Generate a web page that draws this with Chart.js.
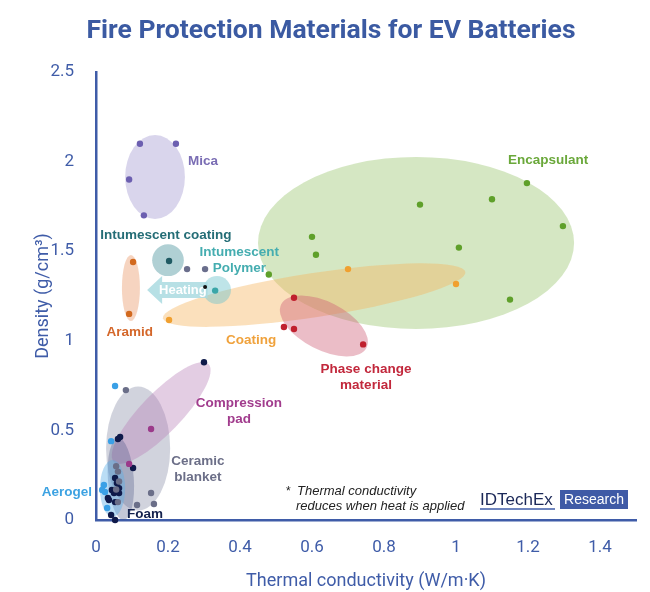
<!DOCTYPE html>
<html lang="en">
<head>
<meta charset="UTF-8">
<title>Fire Protection Materials for EV Batteries</title>
<style>
  html, body { margin: 0; padding: 0; background: #fff; }
</style>
</head>
<body>
<canvas id="myChart" width="650" height="592"></canvas>

<script src="https://cdn.jsdelivr.net/npm/chart.js"></script>
<script>
// values: [thermal conductivity (W/m·K), density (g/cm³)]
const mica = [[0.122, 2.10], [0.222, 2.10], [0.092, 1.90], [0.133, 1.70]];
const intumescentCoating = [[0.203, 1.445]];
const intumescentPolymer = [[0.331, 1.28]];
const heatedPoint = [[0.303, 1.30]];
const otherGrey = [[0.253, 1.40], [0.303, 1.40]];
const aramid = [[0.103, 1.44], [0.092, 1.15]];
const coating = [[0.203, 1.116], [0.70, 1.40], [1.0, 1.317]];
const encapsulant = [[1.197, 1.88], [1.10, 1.79], [0.90, 1.76], [1.297, 1.64], [0.60, 1.58],
                     [1.008, 1.52], [0.611, 1.48], [0.48, 1.37], [1.15, 1.23]];
const phaseChange = [[0.55, 1.24], [0.522, 1.077], [0.55, 1.066], [0.742, 0.98]];
const compressionPad = [[0.153, 0.508], [0.092, 0.313]];
const ceramicBlanket = [[0.083, 0.725], [0.153, 0.151], [0.114, 0.084], [0.161, 0.089],
                        [0.061, 0.10], [0.056, 0.30], [0.061, 0.27], [0.064, 0.215], [0.056, 0.17]];
const foam = [[0.30, 0.88], [0.067, 0.463], [0.061, 0.452], [0.103, 0.29], [0.053, 0.234],
              [0.058, 0.206], [0.044, 0.167], [0.064, 0.178], [0.050, 0.150], [0.064, 0.150],
              [0.033, 0.123], [0.036, 0.112], [0.053, 0.100], [0.042, 0.028], [0.053, 0.0]];
const aerogel = [[0.053, 0.748], [0.042, 0.44], [0.022, 0.195], [0.017, 0.167], [0.025, 0.156], [0.031, 0.067]];

const xTicks = [0, 0.2, 0.4, 0.6, 0.8, 1, 1.2, 1.4];
const yTicks = [0, 0.5, 1, 1.5, 2, 2.5];

const chartTitle = 'Fire Protection Materials for EV Batteries';
const axisBlue = '#3f5ca8';

// shaded groups: centre in data units, half-axes in x / y units, rotation in degrees
const groups = [
  { cx: 0.889, cy: 1.546, rx: 0.439, ry: 0.48, rot: 0, fill: 'rgba(150,195,105,0.40)' },
  { cx: 0.606, cy: 1.255, rx: 0.425, ry: 0.123, rot: -8.7, fill: 'rgba(245,180,95,0.42)' },
  { cx: 0.633, cy: 1.083, rx: 0.133, ry: 0.134, rot: 27, fill: 'rgba(205,90,115,0.40)' },
  { cx: 0.164, cy: 1.914, rx: 0.083, ry: 0.234, rot: 0, fill: 'rgba(165,155,210,0.42)' },
  { cx: 0.097, cy: 1.295, rx: 0.025, ry: 0.184, rot: 0, fill: 'rgba(235,160,115,0.45)' },
  { cx: 0.200, cy: 1.450, rx: 0.044, ry: 0.089, rot: 0, fill: 'rgba(80,150,160,0.45)' },
  { cx: 0.336, cy: 1.283, rx: 0.039, ry: 0.078, rot: 0, fill: 'rgba(110,195,205,0.45)' },
  { cx: 0.117, cy: 0.399, rx: 0.089, ry: 0.346, rot: 0, fill: 'rgba(135,140,165,0.38)' },
  { cx: 0.181, cy: 0.597, rx: 0.189, ry: 0.112, rot: -46, fill: 'rgba(185,130,185,0.40)' },
  { cx: 0.069, cy: 0.229, rx: 0.036, ry: 0.229, rot: -4, fill: 'rgba(70,80,130,0.32)' },
  { cx: 0.046, cy: 0.176, rx: 0.035, ry: 0.159, rot: 0, fill: 'rgba(90,175,230,0.42)' }
];

const groupLabels = [
  { lines: ['Mica'], x: 0.297, y: 2.0, color: '#7a6db4' },
  { lines: ['Intumescent coating'], x: 0.194, y: 1.59, color: '#246d76' },
  { lines: ['Intumescent', 'Polymer'], x: 0.398, y: 1.45, color: '#45adb0' },
  { lines: ['Aramid'], x: 0.094, y: 1.049, color: '#d4672a' },
  { lines: ['Coating'], x: 0.431, y: 1.004, color: '#f0a23c' },
  { lines: ['Encapsulant'], x: 1.256, y: 2.009, color: '#6aa83a' },
  { lines: ['Phase change', 'material'], x: 0.75, y: 0.798, color: '#c2283c' },
  { lines: ['Compression', 'pad'], x: 0.397, y: 0.608, color: '#a13c8d' },
  { lines: ['Ceramic', 'blanket'], x: 0.283, y: 0.285, color: '#6c6f88' },
  { lines: ['Aerogel'], x: -0.081, y: 0.156, color: '#3ca2e2' },
  { lines: ['Foam'], x: 0.136, y: 0.033, color: '#14214d' }
];

function pts(arr) { return arr.map(p => ({ x: p[0], y: p[1] })); }

function ds(label, arr, color, r) {
  return { label: label, data: pts(arr), backgroundColor: color, borderWidth: 0,
           pointRadius: r || 3.2, pointHoverRadius: r || 3.2, clip: false };
}

const shapesPlugin = {
  id: 'shapes',
  beforeDatasetsDraw(chart) {
    const ctx = chart.ctx, xs = chart.scales.x, ys = chart.scales.y;
    const kx = xs.getPixelForValue(1) - xs.getPixelForValue(0);
    const ky = ys.getPixelForValue(0) - ys.getPixelForValue(1);
    ctx.save();
    groups.forEach(g => {
      ctx.beginPath();
      ctx.ellipse(xs.getPixelForValue(g.cx), ys.getPixelForValue(g.cy), g.rx * kx, g.ry * ky,
                  g.rot * Math.PI / 180, 0, Math.PI * 2);
      ctx.fillStyle = g.fill;
      ctx.fill();
    });
    // heating arrow, pointing towards lower conductivity
    const y0 = ys.getPixelForValue(1.283);
    const tip = xs.getPixelForValue(0.142), tail = xs.getPixelForValue(0.31);
    const head = tip + 15;
    ctx.beginPath();
    ctx.moveTo(tip, y0);
    ctx.lineTo(head, y0 - 14);
    ctx.lineTo(head, y0 - 8);
    ctx.lineTo(tail, y0 - 8);
    ctx.lineTo(tail, y0 + 8);
    ctx.lineTo(head, y0 + 8);
    ctx.lineTo(head, y0 + 14);
    ctx.closePath();
    ctx.fillStyle = 'rgba(170,218,224,0.85)';
    ctx.fill();
    ctx.fillStyle = '#ffffff';
    ctx.font = 'bold 13px "Liberation Sans"';
    ctx.textAlign = 'center';
    ctx.textBaseline = 'middle';
    ctx.fillText('Heating', (head + tail) / 2 - 2, y0);
    ctx.restore();
  },
  afterDatasetsDraw(chart) {
    const ctx = chart.ctx, xs = chart.scales.x, ys = chart.scales.y, area = chart.chartArea;
    ctx.save();
    ctx.textAlign = 'center';
    ctx.textBaseline = 'middle';
    // title
    ctx.fillStyle = '#3b5aa2';
    ctx.font = 'bold 26.5px Roboto';
    ctx.fillText(chartTitle, area.left + 235, 31);

    ctx.font = 'bold 13.5px "Liberation Sans"';
    groupLabels.forEach(l => {
      ctx.fillStyle = l.color;
      const px = xs.getPixelForValue(l.x), py = ys.getPixelForValue(l.y);
      l.lines.forEach((t, i) => ctx.fillText(t, px, py + i * 16 - (l.lines.length - 1) * 8));
    });
    // footnote
    ctx.fillStyle = '#222222';
    ctx.textAlign = 'left';
    ctx.font = '12px "Liberation Sans"';
    ctx.fillText('*', area.left + 190, area.bottom - 28);
    ctx.font = 'italic 13px "Liberation Sans"';
    ctx.fillText('Thermal conductivity', area.left + 201, area.bottom - 29);
    ctx.fillText('reduces when heat is applied', area.left + 200, area.bottom - 14);
    // logo
    ctx.fillStyle = '#1b2858';
    ctx.font = '17px "Liberation Sans"';
    ctx.fillText('IDTechEx', area.left + 384, area.bottom - 20);
    ctx.strokeStyle = axisBlue;
    ctx.lineWidth = 1.5;
    ctx.beginPath();
    ctx.moveTo(area.left + 384, area.bottom - 11);
    ctx.lineTo(area.left + 459, area.bottom - 11);
    ctx.stroke();
    ctx.fillStyle = '#3f5aa6';
    ctx.fillRect(area.left + 464, area.bottom - 30, 68, 19);
    ctx.fillStyle = '#ffffff';
    ctx.font = '14px "Liberation Sans"';
    ctx.textAlign = 'center';
    ctx.fillText('Research', area.left + 498, area.bottom - 20);
    ctx.restore();
  }
};

function fmt(v) { return String(Number(v.toFixed(1))); }

new Chart(document.getElementById('myChart'), {
  type: 'scatter',
  data: {
    datasets: [
      ds('Mica', mica, '#6c5fb0'),
      ds('Intumescent coating', intumescentCoating, '#1f5a63'),
      ds('Other', otherGrey, '#6a6e8c'),
      ds('Heated', heatedPoint, '#111111', 2),
      ds('Intumescent Polymer', intumescentPolymer, '#3aa6a8'),
      ds('Aramid', aramid, '#d2691e'),
      ds('Coating', coating, '#f0a030'),
      ds('Encapsulant', encapsulant, '#5fa02a'),
      ds('Phase change material', phaseChange, '#c0202e'),
      ds('Ceramic blanket', ceramicBlanket, '#6a6e88'),
      ds('Compression pad', compressionPad, '#9b3a8a'),
      ds('Foam', foam, '#0f1a4a'),
      ds('Aerogel', aerogel, '#3aa0e6')
    ]
  },
  options: {
    responsive: false,
    animation: false,
    events: [],
    layout: { padding: { left: 0, right: 14, top: 72, bottom: 0 } },
    plugins: {
      legend: { display: false },
      tooltip: { enabled: false },
      title: { display: false }
    },
    scales: {
      x: {
        type: 'linear', min: 0, max: 1.5,
        grid: { display: false },
        border: { display: true, color: axisBlue, width: 2.5 },
        afterBuildTicks: s => { s.ticks = xTicks.map(v => ({ value: v })); },
        ticks: { color: axisBlue, font: { family: 'Roboto', size: 17 }, padding: 10, callback: v => fmt(v) },
        title: { display: true, text: 'Thermal conductivity (W/m·K)', color: axisBlue,
                 font: { family: 'Roboto', size: 18 }, padding: { top: 0, bottom: 0 } },
        afterFit: s => { s.height = 72; }
      },
      y: {
        type: 'linear', min: 0, max: 2.5,
        grid: { display: false },
        border: { display: true, color: axisBlue, width: 2.5 },
        afterBuildTicks: s => { s.ticks = yTicks.map(v => ({ value: v })); },
        ticks: { color: axisBlue, font: { family: 'Roboto', size: 17 }, padding: 14, callback: v => fmt(v) },
        title: { display: true, text: 'Density (g/cm³)', color: axisBlue,
                 font: { family: 'Roboto', size: 18 }, padding: { top: 33, bottom: 0 } },
        afterFit: s => { s.width = 96; }
      }
    }
  },
  plugins: [shapesPlugin]
});
</script>
</body>
</html>
